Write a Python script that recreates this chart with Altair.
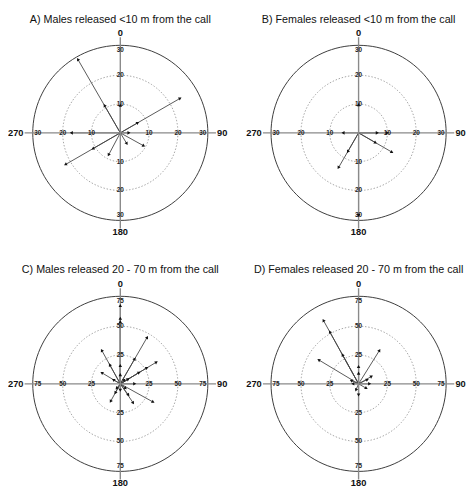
import altair as alt
import numpy as np
import pandas as pd

# ---------------- data ----------------
TITLES = [
    "A) Males released <10 m from the call",
    "B) Females released <10 m from the call",
    "C) Males released 20 - 70 m from the call",
    "D) Females released 20 - 70 m from the call",
]
RING_MAX = [30, 30, 75, 75]
RING_TICKS = [[10, 20, 30], [10, 20, 30], [25, 50, 75], [25, 50, 75]]
DIR_LABELS = ["0", "90", "180", "270"]

# bearing (deg, clockwise from 0) and distance moved
A_ANG = [330, 330, 60, 60, 240, 240, 270, 90, 0, 119, 149, 208]
A_LEN = [29.5, 11, 24, 7, 22, 11, 17, 3, 9.6, 9.3, 4.4, 8.7]

B_ANG = [90, 90, 270, 120, 120, 210, 210, 0, 180]
B_LEN = [6.5, 10, 5.4, 13.4, 6.8, 14, 7.5, 9.8, 28.7]

C_ANG = [0, 0, 0, 0, 0, 30, 30, 59, 59, 59, 59, 331, 331, 301, 301,
         119, 146, 144, 209, 209, 90, 180, 45, 130, 220]
C_LEN = [68, 57, 54, 16, 8, 46.7, 25, 36.6, 27, 19, 8, 33.3, 19, 18.8, 7,
         32.6, 20, 12, 17.4, 9, 12.5, 5.5, 5, 6, 5]

D_ANG = [331, 331, 331, 301, 32, 0, 0, 60, 64, 90, 120, 180, 203, 270, 294]
D_LEN = [63, 51.6, 28.8, 40.4, 34.3, 9.3, 15, 13, 8.5, 9.6, 7.8, 9.6, 5.8, 5, 7]

ANGLES = [A_ANG, B_ANG, C_ANG, D_ANG]
LENGTHS = [A_LEN, B_LEN, C_LEN, D_LEN]

# ---------------- styling / geometry ----------------
FONT = "Liberation Sans"
PLOT = 220          # plot area size (px)
RADIUS_PX = 88.5    # pixels for the maximum ring value


def panel(title, M, ticks, ang, ln):
    half = M * (PLOT / 2) / RADIUS_PX
    sc = alt.Scale(domain=[-half, half], nice=False, zero=False)

    def X(f):
        return alt.X(f, type="quantitative", scale=sc, axis=None)

    def Y(f):
        return alt.Y(f, type="quantitative", scale=sc, axis=None)

    # rings
    th = np.deg2rad(np.arange(0, 361, 3))
    rows = []
    for r in ticks[:-1]:
        for i, t in enumerate(th):
            rows.append({"ring": r, "i": i, "x": r * np.sin(t), "y": r * np.cos(t)})
    inner = pd.DataFrame(rows)
    R_out = ticks[-1] * 1.013
    outer = pd.DataFrame({"i": range(len(th)), "x": R_out * np.sin(th), "y": R_out * np.cos(th)})

    dotted = alt.Chart(inner).mark_line(
        color="#9a9a9a", strokeWidth=0.9, strokeDash=[1.5, 1.8]
    ).encode(x=X("x"), y=Y("y"), detail="ring:N", order="i:Q")
    solid = alt.Chart(outer).mark_line(color="#3a3a3a", strokeWidth=1).encode(
        x=X("x"), y=Y("y"), order="i:Q")

    L = M * 1.107
    cross = pd.DataFrame({"x": [-L, 0], "y": [0, -L], "x2": [L, 0], "y2": [0, L]})
    axes = alt.Chart(cross).mark_rule(color="#8a8a8a", strokeWidth=1.4).encode(
        x=X("x"), y=Y("y"), x2="x2:Q", y2="y2:Q")

    # ring tick labels on the four half-axes
    trows = []
    for v in ticks:
        p = v if v < M else M * 0.955
        for (sx, sy) in [(1, 0), (-1, 0), (0, 1), (0, -1)]:
            trows.append({"x": sx * p, "y": sy * p, "t": str(v)})
    tick_lab = alt.Chart(pd.DataFrame(trows)).mark_text(
        font=FONT, fontSize=6.5, fontWeight="bold", color="#222",
        baseline="middle", align="center"
    ).encode(x=X("x"), y=Y("y"), text="t:N")

    # direction labels
    D = M * 1.153
    Lx = M * 1.12
    dir_v = pd.DataFrame({"x": [0, 0], "y": [D, -D], "t": [DIR_LABELS[0], DIR_LABELS[2]]})
    dir_r = pd.DataFrame({"x": [Lx], "y": [0], "t": [DIR_LABELS[1]]})
    dir_l = pd.DataFrame({"x": [-Lx], "y": [0], "t": [DIR_LABELS[3]]})
    txt = dict(font=FONT, fontSize=9.5, fontWeight="bold", color="#111", baseline="middle")
    lab_v = alt.Chart(dir_v).mark_text(align="center", **txt).encode(x=X("x"), y=Y("y"), text="t:N")
    lab_r = alt.Chart(dir_r).mark_text(align="left", **txt).encode(x=X("x"), y=Y("y"), text="t:N")
    lab_l = alt.Chart(dir_l).mark_text(align="right", **txt).encode(x=X("x"), y=Y("y"), text="t:N")

    # arrows
    arr = pd.DataFrame({"ang": ang, "len": ln})
    base = alt.Chart(arr).transform_calculate(
        xe="datum.len * sin(datum.ang * PI / 180)",
        ye="datum.len * cos(datum.ang * PI / 180)",
        x0="0",
        y0="0",
    )
    shafts = base.mark_rule(color="#444", strokeWidth=0.9).encode(
        x=X("x0"), y=Y("y0"), x2="xe:Q", y2="ye:Q")
    heads = base.mark_point(shape="triangle-up", filled=True, size=13, color="#111", opacity=1).encode(
        x=X("xe"), y=Y("ye"), angle=alt.Angle("ang:Q", scale=None))

    return alt.layer(
        dotted, solid, shafts, axes, tick_lab, heads, lab_v, lab_r, lab_l
    ).properties(
        width=PLOT, height=PLOT,
        title=alt.TitleParams(text=title, font=FONT, fontSize=11, fontWeight="normal",
                              anchor="middle", offset=1, color="#111"),
    )


panels = [panel(TITLES[i], RING_MAX[i], RING_TICKS[i], ANGLES[i], LENGTHS[i]) for i in range(4)]

chart = alt.concat(
    *panels, columns=2, spacing={"row": 37, "column": 24}, bounds="flush"
).properties(
    padding={"left": 0, "top": 0, "right": 0, "bottom": 0},
    background="white",
).configure_view(stroke=None, strokeWidth=0)

chart.save("out.html", embed_options={"renderer": "svg", "actions": False})
